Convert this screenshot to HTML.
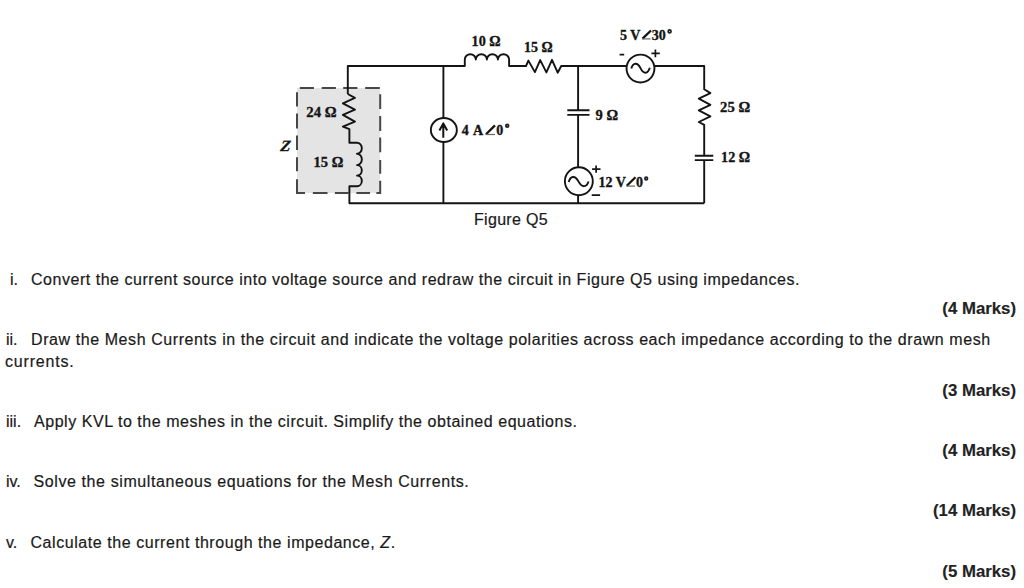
<!DOCTYPE html>
<html><head><meta charset="utf-8">
<style>
html,body{margin:0;padding:0;background:#fff;width:1024px;height:588px;overflow:hidden;position:relative}
.t{position:absolute;white-space:nowrap;font-family:"Liberation Sans",sans-serif;font-size:16px;color:#1a1a1a;line-height:1;-webkit-text-stroke:0.2px #1a1a1a}
.n{letter-spacing:0}
.b{font-weight:bold;font-size:16.8px;-webkit-text-stroke:0.15px #222;color:#222}
.lab{position:absolute;white-space:nowrap;font-family:"Liberation Serif",serif;font-weight:bold;font-size:15px;color:#1a1a1a;line-height:1}
svg{position:absolute;left:0;top:0}
</style></head><body>
<svg width="1024" height="588" viewBox="0 0 1024 588">
<!-- dashed Z box -->
<rect x="297" y="88" width="83" height="105" fill="#e4e4e4"/>
<path fill="none" stroke="#474747" stroke-width="2" d="
M299.8 88 H313.9 M321.7 88 H335.9 M343.2 88 H357.4 M365.2 88 H379.8
M380.2 94.2 V109 M380.2 116.1 V131 M380.2 137.6 V152.2 M380.2 159.9 V173.7 M380.2 180.8 V193 H376.4
M370 193 H356.4 M348.5 193 H334.9 M327.5 193 H312.9 M305 193 H297 V179.3
M297 171.3 V157.3 M297 150 V135.5 M297 128.4 V113.6 M297 106.4 V92.2"/>
<g fill="none" stroke="#141414" stroke-width="1.9" stroke-linejoin="round">
<!-- top wire with inductor and resistor -->
<path d="M347.8 94 V66 H464.8 V59.5 A5.5 5.3 0 0 1 475.8 59.5 A5.55 5.3 0 0 1 486.9 59.5 A5.5 5.3 0 0 1 497.9 59.5 A5.6 5.3 0 0 1 509.1 59.5 V66 H526 L528.4 60.6 L534.9 72.1 L540.2 60.1 L546.4 72.4 L552 59.8 L557.7 72.7 L561.2 66 H626.8"/>
<path d="M654.2 66 H704.2 V89.3 L710.4 93.1 L698.8 98.7 L710.4 104.8 L698.8 110.4 L710.4 116.4 L698.8 122 L704.2 124.9 V155.7"/>
<path d="M694.8 155.7 H713.3 M694.8 160.1 H713.3 M704.2 160.1 V203.3"/>
<!-- Z branch -->
<path d="M347.8 94 L354.9 97.8 L342.9 103.3 L354.9 109.7 L342.9 114.8 L354.9 121.6 L342.9 126.7 L349.4 129.2 V142.7 H357 A4.8 5.5 0 0 1 357 153.8 A4.8 5.6 0 0 1 357 165.1 A4.8 5.25 0 0 1 357 175.6 A4.8 5.3 0 0 1 357 186.2 H349.4 V203.3 H704.2"/>
<!-- current source -->
<path d="M443.4 66 V118 M443.4 142 V203.3"/>
<ellipse cx="443.85" cy="130.05" rx="13" ry="12"/>
<path d="M443.3 137.8 V125 M439.4 130.5 L443.3 123.4 L447.2 130.5" stroke-width="2"/>
<!-- middle branch -->
<path d="M578.1 66 V110.2 M567.3 110.2 H589.5 M567.3 114.9 H589.5 M578.1 114.9 V167.3 M578.1 195.2 V203.3"/>
<circle cx="578.85" cy="181.25" r="13.95"/>
<path d="M568.7 182 C570.5 176 575 175 578.4 181.4 C582 188 586.5 187.5 588.6 181.5"/>
<!-- 5V source -->
<circle cx="640.5" cy="68.55" r="13.95"/>
<path d="M631.3 68.6 C633 62.5 637.5 62 640.5 68.2 C643.5 74.5 648 74 649.8 67.8"/>
</g>
<path d="M441.3 127.2 L443.3 122.8 L445.3 127.2Z" fill="#141414"/>
<!-- small + - signs -->
<g stroke="#141414" stroke-width="1.7" fill="none">
<path d="M619.6 54.6 H624.2 M651.4 53.4 H659.8 M655.4 49.6 V57.3"/>
<path d="M592.1 169.2 H600.5 M596.1 165.4 V172.8 M591.7 195.2 H600.1"/>
</g>
<!-- labels -->
<g font-family="Liberation Serif" font-weight="bold" font-size="15" fill="#141414" stroke="#141414" stroke-width="0.35">
<text x="471.6" y="46.2" textLength="29" lengthAdjust="spacingAndGlyphs">10 Ω</text>
<text x="524" y="51.8" textLength="28.6" lengthAdjust="spacingAndGlyphs">15 Ω</text>
<text x="306.3" y="116.5" textLength="30.3" lengthAdjust="spacingAndGlyphs">24 Ω</text>
<text x="313.6" y="167.2" textLength="29.7" lengthAdjust="spacingAndGlyphs">15 Ω</text>
<text x="595.5" y="119.7" textLength="22.5" lengthAdjust="spacingAndGlyphs">9 Ω</text>
<text x="720.1" y="112.3" textLength="30" lengthAdjust="spacingAndGlyphs">25 Ω</text>
<text x="721.1" y="161.8" textLength="29" lengthAdjust="spacingAndGlyphs">12 Ω</text>
<text x="620" y="39.8" font-size="14">5 V</text>
<text x="651.8" y="39.8" font-size="14">30</text>
<text x="461.8" y="135" font-size="14">4</text><text x="473" y="135" font-size="14">A</text>
<text x="496.2" y="135.2" font-size="14">0</text>
<text x="598.6" y="187" font-size="14">12 V</text>
<text x="636" y="187" font-size="14">0</text>
<text x="280" y="151" font-style="italic" font-size="15.5" textLength="10" lengthAdjust="spacingAndGlyphs" transform="translate(284 151) skewX(-8) translate(-284 -151)">Z</text>
</g>
<!-- degree marks -->
<g fill="none" stroke="#222" stroke-width="1.8">
<circle cx="669.6" cy="31.4" r="1.4"/>
<circle cx="507.2" cy="125.8" r="1.35"/>
<circle cx="646.2" cy="178.5" r="1.3"/>
</g>
<!-- angle glyphs -->
<g fill="none" stroke="#141414">
<path d="M642.5 38.6 L651 30.5" stroke-width="2.3"/><path d="M642 38.9 H650.5" stroke-width="1.2" stroke="#666"/>
<path d="M486 134.2 L495 125.4" stroke-width="2.3"/><path d="M485.5 134.5 H495" stroke-width="1.2" stroke="#666"/>
<path d="M626.8 185.8 L635.5 177.3" stroke-width="2.3"/><path d="M626.3 186.1 H635" stroke-width="1.2" stroke="#666"/>
</g>
</svg>
<!-- circuit labels -->
<div class="t" style="left:474px;top:211.5px;letter-spacing:0.3px;-webkit-text-stroke:0.2px #1a1a1a">Figure Q5</div>

<!-- questions -->
<div class="t" style="left:10px;top:272px">i.</div>
<div class="t" style="left:31px;top:272px;letter-spacing:0.53px">Convert the current source into voltage source and redraw the circuit in Figure Q5 using impedances.</div>
<div class="t b" style="right:8px;top:300.5px">(4 Marks)</div>
<div class="t" style="left:6px;top:332px">ii.</div>
<div class="t" style="left:31px;top:332px;letter-spacing:0.58px">Draw the Mesh Currents in the circuit and indicate the voltage polarities across each impedance according to the drawn mesh</div>
<div class="t" style="left:5px;top:354px;letter-spacing:0.8px">currents.</div>
<div class="t b" style="right:8px;top:382.5px">(3 Marks)</div>
<div class="t" style="left:6px;top:414px">iii.</div>
<div class="t" style="left:34px;top:414px;letter-spacing:0.54px">Apply KVL to the meshes in the circuit. Simplify the obtained equations.</div>
<div class="t b" style="right:8px;top:442.5px">(4 Marks)</div>
<div class="t" style="left:6px;top:474px">iv.</div>
<div class="t" style="left:33.5px;top:474px;letter-spacing:0.6px">Solve the simultaneous equations for the Mesh Currents.</div>
<div class="t b" style="right:8px;top:503px">(14 Marks)</div>
<div class="t" style="left:6px;top:535px">v.</div>
<div class="t" style="left:30.5px;top:535px;letter-spacing:0.56px">Calculate the current through the impedance, <i>Z</i>.</div>
<div class="t b" style="right:8px;top:563.5px">(5 Marks)</div>
</body></html>
